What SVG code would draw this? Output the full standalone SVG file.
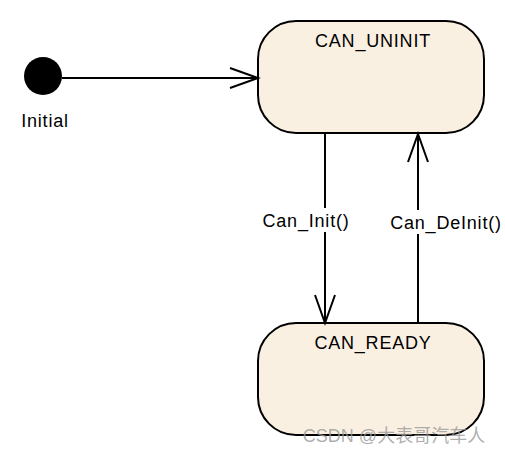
<svg xmlns="http://www.w3.org/2000/svg" width="505" height="455" viewBox="0 0 505 455">
<style>
.state{fill:#FAF0E2;stroke:#000;stroke-width:2}
.lbl{font-family:"Liberation Sans",Arial,sans-serif;font-size:18px;letter-spacing:0.8px;fill:#000}
.edge{stroke:#000;stroke-width:2;fill:none}
</style>
<defs>
<marker id="open" markerWidth="32" markerHeight="24" refX="29" refY="11" orient="auto" markerUnits="userSpaceOnUse">
<path d="M1,1 L29,11 L1,21" fill="none" stroke="#000" stroke-width="2"/>
</marker>
</defs>
<rect width="505" height="455" fill="#fff"/>
<g id="initial">
<circle cx="43" cy="76" r="19" fill="#000"/>
<text class="lbl" x="45" y="127" text-anchor="middle">Initial</text>
</g>
<g id="can_uninit">
<rect class="state" x="258" y="21" width="226" height="112" rx="38" ry="38"/>
<text class="lbl" x="373" y="47" text-anchor="middle">CAN_UNINIT</text>
</g>
<g id="can_ready">
<rect class="state" x="258" y="323" width="226" height="112" rx="38" ry="38"/>
<text class="lbl" x="373" y="349" text-anchor="middle">CAN_READY</text>
</g>
<g id="connectors">
<line class="edge" x1="62" y1="78" x2="258" y2="78" marker-end="url(#open)"/>
<line class="edge" x1="325" y1="133" x2="325" y2="323" marker-end="url(#open)"/>
<line class="edge" x1="418" y1="323" x2="418" y2="134" marker-end="url(#open)"/>
<rect x="261" y="208" width="89" height="24" fill="#fff"/>
<text class="lbl" x="306" y="227" text-anchor="middle">Can_Init()</text>
<rect x="388" y="210" width="115" height="24" fill="#fff"/>
<text class="lbl" x="446" y="229" text-anchor="middle">Can_DeInit()</text>
</g>
<text x="394" y="442" text-anchor="middle" font-family="Liberation Sans,'Noto Sans CJK SC',sans-serif" font-size="18" fill="#999" fill-opacity="0.8">CSDN @大表哥汽车人</text>
</svg>
